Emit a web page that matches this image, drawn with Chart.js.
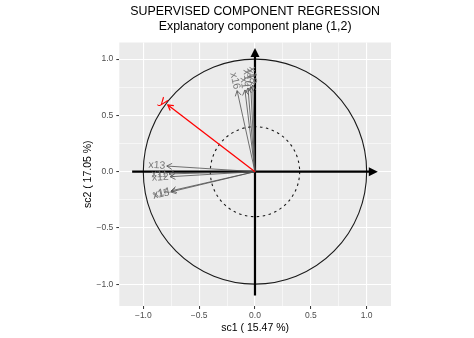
<!DOCTYPE html>
<html>
<head>
<meta charset="utf-8">
<script src="https://cdn.jsdelivr.net/npm/chart.js@4.4.0/dist/chart.umd.min.js"></script>
<style>
  body { margin: 0; background: #fff; }
</style>
</head>
<body>
<canvas id="scrChart" width="474" height="338"></canvas>
<script>
// --- texts ---
const titleLines = ['SUPERVISED COMPONENT REGRESSION', 'Explanatory component plane (1,2)'];
const xAxisTitle = 'sc1 ( 15.47 %)';
const yAxisTitle = 'sc2 ( 17.05 %)';

// --- explanatory variables (correlations with sc1, sc2) ---
const varNames = ['x16', 'x1', 'x10', 'x17', 'x18', 'x13', 'x11', 'x12', 'x15', 'x14'];
const varX = [-0.16, -0.09, -0.063, -0.038, -0.02, -0.79, -0.77, -0.76, -0.755, -0.75];
const varY = [0.72, 0.726, 0.744, 0.756, 0.77, 0.05, -0.02, -0.045, -0.18, -0.17];

// --- response ---
const responseName = 'y';
const responseX = -0.78;
const responseY = 0.593;

// --- reference circles and axes ---
const circleRadii = [1, 0.4];
const axisLimit = 1.1;
const xRange = [-1.215, 1.218];
const yRange = [-1.194, 1.148];
const tickStep = 0.25;

const FONT = '"Liberation Sans", Arial, sans-serif';

function isMajor(v) {
  return Math.abs(v * 2 - Math.round(v * 2)) < 1e-6;
}
function fmtTick(v) {
  return isMajor(v) ? v.toFixed(1).replace('-', '\u2212') : '';
}

// datasets: one segment per arrow (response first so it sits on top)
const datasets = [{
  data: [{ x: 0, y: 0 }, { x: responseX, y: responseY }],
  showLine: true,
  borderColor: '#FF0000',
  borderWidth: 1.3,
  pointRadius: 0
}];
varNames.forEach((n, i) => {
  datasets.push({
    data: [{ x: 0, y: 0 }, { x: varX[i], y: varY[i] }],
    showLine: true,
    borderColor: 'rgba(80,80,80,0.8)',
    borderWidth: 1,
    pointRadius: 0
  });
});

function openHead(ctx, x0, y0, x1, y1, len) {
  const a = Math.atan2(y1 - y0, x1 - x0);
  ctx.beginPath();
  ctx.moveTo(x1 - len * Math.cos(a - Math.PI / 6), y1 - len * Math.sin(a - Math.PI / 6));
  ctx.lineTo(x1, y1);
  ctx.lineTo(x1 - len * Math.cos(a + Math.PI / 6), y1 - len * Math.sin(a + Math.PI / 6));
  ctx.stroke();
}

function filledHead(ctx, x0, y0, x1, y1, len, half) {
  const a = Math.atan2(y1 - y0, x1 - x0);
  const bx = x1 - len * Math.cos(a), by = y1 - len * Math.sin(a);
  ctx.beginPath();
  ctx.moveTo(x1, y1);
  ctx.lineTo(bx + half * Math.sin(a), by - half * Math.cos(a));
  ctx.lineTo(bx - half * Math.sin(a), by + half * Math.cos(a));
  ctx.closePath();
  ctx.fill();
}

function tipLabel(ctx, ox, oy, tx, ty, text, gap) {
  const ang = Math.atan2(oy - ty, ox - tx);
  ctx.save();
  ctx.translate(tx, ty);
  ctx.rotate(ang);
  ctx.textAlign = 'right';
  ctx.textBaseline = 'middle';
  ctx.fillText(text, -gap, 0);
  ctx.restore();
}

const scrDecor = {
  id: 'scrDecor',
  beforeDraw(chart) {
    const { ctx, chartArea: a } = chart;
    ctx.save();
    ctx.fillStyle = '#EBEBEB';
    ctx.fillRect(a.left, a.top, a.right - a.left, a.bottom - a.top);
    ctx.restore();
  },
  beforeDatasetsDraw(chart) {
    const { ctx, scales: { x, y } } = chart;
    const cx = x.getPixelForValue(0), cy = y.getPixelForValue(0);
    ctx.save();
    ctx.strokeStyle = '#1A1A1A';
    ctx.lineWidth = 1.1;
    circleRadii.forEach((r, i) => {
      ctx.setLineDash(i === 0 ? [] : [2.5, 3.5]);
      ctx.beginPath();
      ctx.ellipse(cx, cy, x.getPixelForValue(r) - cx, cy - y.getPixelForValue(r), 0, 0, Math.PI * 2);
      ctx.stroke();
    });
    ctx.setLineDash([]);

    // axes with arrow heads
    ctx.strokeStyle = '#000';
    ctx.fillStyle = '#000';
    ctx.lineWidth = 2.2;
    const xl = x.getPixelForValue(-axisLimit), xr = x.getPixelForValue(axisLimit);
    const yb = y.getPixelForValue(-axisLimit), yt = y.getPixelForValue(axisLimit);
    ctx.beginPath();
    ctx.moveTo(xl, cy);
    ctx.lineTo(xr - 6, cy);
    ctx.moveTo(cx, yb);
    ctx.lineTo(cx, yt + 6);
    ctx.stroke();
    filledHead(ctx, xl, cy, xr, cy, 9, 4.5);
    filledHead(ctx, cx, yb, cx, yt, 9, 4.5);
    ctx.restore();
  },
  afterDatasetsDraw(chart) {
    const { ctx, scales: { x, y } } = chart;
    const cx = x.getPixelForValue(0), cy = y.getPixelForValue(0);
    ctx.save();
    // variable arrows
    ctx.strokeStyle = 'rgba(80,80,80,0.8)';
    ctx.fillStyle = '#777777';
    ctx.lineWidth = 1;
    ctx.font = '10.5px ' + FONT;
    varNames.forEach((n, i) => {
      const tx = x.getPixelForValue(varX[i]), ty = y.getPixelForValue(varY[i]);
      openHead(ctx, cx, cy, tx, ty, 6);
      tipLabel(ctx, cx, cy, tx, ty, n, 1.5);
    });
    // response arrow
    const rx = x.getPixelForValue(responseX), ry = y.getPixelForValue(responseY);
    ctx.strokeStyle = '#FF0000';
    ctx.fillStyle = '#FF0000';
    ctx.lineWidth = 1.3;
    openHead(ctx, cx, cy, rx, ry, 6);
    ctx.font = '14px ' + FONT;
    tipLabel(ctx, cx, cy, rx, ry, responseName, 2);
    ctx.restore();
  },
  afterDraw(chart) {
    const { ctx, chartArea: a } = chart;
    const mid = (a.left + a.right) / 2;
    ctx.save();
    ctx.fillStyle = '#000';
    ctx.font = '12.4px ' + FONT;
    ctx.textAlign = 'center';
    ctx.textBaseline = 'middle';
    ctx.fillText(titleLines[0], mid, 12);
    ctx.fillText(titleLines[1], mid, 27);
    ctx.restore();
  }
};

const gridOpts = {
  color: c => '#FFFFFF',
  lineWidth: c => (c.tick && isMajor(c.tick.value)) ? 1.1 : 0.55,
  tickColor: c => (c.tick && isMajor(c.tick.value)) ? '#333333' : 'rgba(0,0,0,0)',
  tickWidth: 1,
  tickLength: 3,
  drawTicks: true
};

new Chart(document.getElementById('scrChart'), {
  type: 'scatter',
  data: { datasets },
  options: {
    responsive: false,
    animation: false,
    layout: { padding: { top: 42.5, right: 83, left: 0, bottom: 0 } },
    plugins: {
      legend: { display: false },
      tooltip: { enabled: false }
    },
    scales: {
      x: {
        type: 'linear',
        min: xRange[0],
        max: xRange[1],
        afterFit(s) { s.height = 32; },
        border: { display: false },
        grid: gridOpts,
        ticks: {
          stepSize: tickStep,
          includeBounds: false,
          autoSkip: false,
          maxRotation: 0,
          padding: 2,
          color: '#4D4D4D',
          font: { family: FONT, size: 8.5 },
          callback: v => fmtTick(v)
        },
        title: {
          display: true,
          text: xAxisTitle,
          color: '#000',
          font: { family: FONT, size: 10.5 },
          padding: { top: 0, bottom: 3.5 }
        }
      },
      y: {
        type: 'linear',
        min: yRange[0],
        max: yRange[1],
        afterFit(s) { s.width = 119.3; },
        border: { display: false },
        grid: gridOpts,
        ticks: {
          stepSize: tickStep,
          includeBounds: false,
          autoSkip: false,
          padding: 3,
          color: '#4D4D4D',
          font: { family: FONT, size: 8.5 },
          callback: v => fmtTick(v)
        },
        title: {
          display: true,
          text: yAxisTitle,
          color: '#000',
          font: { family: FONT, size: 10.5 },
          padding: { top: 81.7, bottom: 0 }
        }
      }
    }
  },
  plugins: [scrDecor]
});
</script>
</body>
</html>
